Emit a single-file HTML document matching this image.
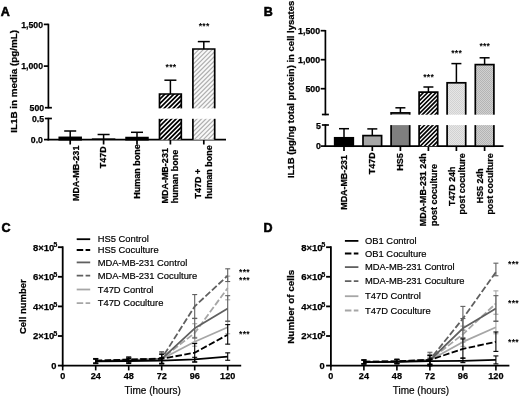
<!DOCTYPE html>
<html><head><meta charset="utf-8"><title>Figure</title>
<style>html,body{margin:0;padding:0;background:#fff;}svg{display:block;font-family:'Liberation Sans', Arial, sans-serif;}</style>
</head><body>
<svg width="520" height="397" viewBox="0 0 520 397">
<defs>
<pattern id="hb" width="3.2" height="3.2" patternUnits="userSpaceOnUse" patternTransform="rotate(45)"><rect width="3.2" height="3.2" fill="#fff"/><rect width="1.7" height="3.2" fill="#000"/></pattern>
<pattern id="hg" width="3.2" height="3.2" patternUnits="userSpaceOnUse" patternTransform="rotate(45)"><rect width="3.2" height="3.2" fill="#fbfbfb"/><rect width="1.2" height="3.2" fill="#b4b4b4"/></pattern>
<pattern id="hb2" width="2.9" height="2.9" patternUnits="userSpaceOnUse" patternTransform="rotate(45)"><rect width="2.9" height="2.9" fill="#fff"/><rect width="1.5" height="2.9" fill="#000"/></pattern>
</defs>
<rect width="520" height="397" fill="#fff"/>
<text x="0.80" y="15.60" font-size="12.5" font-weight="bold" text-anchor="start" fill="#000" stroke="#000" stroke-width="0.55">A</text>
<line x1="48.40" y1="23.70" x2="48.40" y2="108.40" stroke="#000" stroke-width="1.7" stroke-linecap="butt"/>
<line x1="43.80" y1="24.40" x2="48.40" y2="24.40" stroke="#000" stroke-width="1.7" stroke-linecap="butt"/>
<text x="43.00" y="27.50" font-size="8.7" font-weight="bold" text-anchor="end" fill="#000" stroke="#000" stroke-width="0.25">1,500</text>
<line x1="43.80" y1="66.10" x2="48.40" y2="66.10" stroke="#000" stroke-width="1.7" stroke-linecap="butt"/>
<text x="43.00" y="69.20" font-size="8.7" font-weight="bold" text-anchor="end" fill="#000" stroke="#000" stroke-width="0.25">1,000</text>
<line x1="44.90" y1="107.70" x2="51.90" y2="107.70" stroke="#000" stroke-width="1.7" stroke-linecap="butt"/>
<text x="44.10" y="110.80" font-size="8.7" font-weight="bold" text-anchor="end" fill="#000" stroke="#000" stroke-width="0.25">500</text>
<line x1="44.90" y1="118.50" x2="51.90" y2="118.50" stroke="#000" stroke-width="1.7" stroke-linecap="butt"/>
<text x="44.10" y="121.60" font-size="8.7" font-weight="bold" text-anchor="end" fill="#000" stroke="#000" stroke-width="0.25">0.5</text>
<line x1="44.00" y1="139.60" x2="48.40" y2="139.60" stroke="#000" stroke-width="1.7" stroke-linecap="butt"/>
<text x="42.90" y="142.80" font-size="8.7" font-weight="bold" text-anchor="end" fill="#000" stroke="#000" stroke-width="0.25">0.0</text>
<line x1="48.40" y1="117.80" x2="48.40" y2="140.40" stroke="#000" stroke-width="1.7" stroke-linecap="butt"/>
<line x1="47.55" y1="139.60" x2="226.00" y2="139.60" stroke="#000" stroke-width="1.7" stroke-linecap="butt"/>
<text x="17.50" y="81.30" font-size="9.85" font-weight="bold" text-anchor="middle" fill="#000" stroke="#000" stroke-width="0.25" transform="rotate(-90 17.50 81.30)">IL1B in media (pg/mL)</text>
<line x1="70.20" y1="139.70" x2="70.20" y2="144.50" stroke="#000" stroke-width="1.7" stroke-linecap="butt"/>
<line x1="103.60" y1="139.70" x2="103.60" y2="144.50" stroke="#000" stroke-width="1.7" stroke-linecap="butt"/>
<line x1="137.00" y1="139.70" x2="137.00" y2="144.50" stroke="#000" stroke-width="1.7" stroke-linecap="butt"/>
<line x1="170.40" y1="139.70" x2="170.40" y2="144.50" stroke="#000" stroke-width="1.7" stroke-linecap="butt"/>
<line x1="203.80" y1="139.70" x2="203.80" y2="144.50" stroke="#000" stroke-width="1.7" stroke-linecap="butt"/>
<rect x="59.30" y="137.40" width="21.80" height="2.30" fill="#000" stroke="#000" stroke-width="1.7"/>
<line x1="70.20" y1="137.60" x2="70.20" y2="131.00" stroke="#000" stroke-width="1.5" stroke-linecap="butt"/>
<line x1="64.20" y1="131.00" x2="76.20" y2="131.00" stroke="#000" stroke-width="1.5" stroke-linecap="butt"/>
<line x1="91.85" y1="139.00" x2="115.35" y2="139.00" stroke="#000" stroke-width="1.2" stroke-linecap="butt"/>
<line x1="103.60" y1="139.00" x2="103.60" y2="134.50" stroke="#000" stroke-width="1.5" stroke-linecap="butt"/>
<line x1="97.60" y1="134.50" x2="109.60" y2="134.50" stroke="#000" stroke-width="1.5" stroke-linecap="butt"/>
<rect x="126.10" y="137.60" width="21.80" height="2.10" fill="#000" stroke="#000" stroke-width="1.7"/>
<line x1="137.00" y1="137.80" x2="137.00" y2="132.30" stroke="#000" stroke-width="1.5" stroke-linecap="butt"/>
<line x1="131.00" y1="132.30" x2="143.00" y2="132.30" stroke="#000" stroke-width="1.5" stroke-linecap="butt"/>
<clipPath id="c1"><rect x="159.50" y="94.00" width="21.80" height="45.70"/></clipPath>
<rect x="159.50" y="94.00" width="21.80" height="45.70" fill="#fff"/>
<path d="M158.50 96.00L182.30 72.20M158.50 100.50L182.30 76.70M158.50 105.00L182.30 81.20M158.50 109.50L182.30 85.70M158.50 114.00L182.30 90.20M158.50 118.50L182.30 94.70M158.50 123.00L182.30 99.20M158.50 127.50L182.30 103.70M158.50 132.00L182.30 108.20M158.50 136.50L182.30 112.70M158.50 141.00L182.30 117.20M158.50 145.50L182.30 121.70M158.50 150.00L182.30 126.20M158.50 154.50L182.30 130.70M158.50 159.00L182.30 135.20M158.50 163.50L182.30 139.70" stroke="#000" stroke-width="1.75" fill="none" clip-path="url(#c1)"/>
<path d="M159.50 139.70V94.00H181.30V139.70" fill="none" stroke="#000" stroke-width="1.7"/>
<line x1="170.40" y1="94.00" x2="170.40" y2="80.20" stroke="#000" stroke-width="1.5" stroke-linecap="butt"/>
<line x1="164.40" y1="80.20" x2="176.40" y2="80.20" stroke="#000" stroke-width="1.5" stroke-linecap="butt"/>
<clipPath id="c2"><rect x="192.90" y="49.00" width="21.80" height="90.70"/></clipPath>
<rect x="192.90" y="49.00" width="21.80" height="90.70" fill="#f9f9f9"/>
<path d="M191.90 52.00L215.70 28.20M191.90 56.50L215.70 32.70M191.90 61.00L215.70 37.20M191.90 65.50L215.70 41.70M191.90 70.00L215.70 46.20M191.90 74.50L215.70 50.70M191.90 79.00L215.70 55.20M191.90 83.50L215.70 59.70M191.90 88.00L215.70 64.20M191.90 92.50L215.70 68.70M191.90 97.00L215.70 73.20M191.90 101.50L215.70 77.70M191.90 106.00L215.70 82.20M191.90 110.50L215.70 86.70M191.90 115.00L215.70 91.20M191.90 119.50L215.70 95.70M191.90 124.00L215.70 100.20M191.90 128.50L215.70 104.70M191.90 133.00L215.70 109.20M191.90 137.50L215.70 113.70M191.90 142.00L215.70 118.20M191.90 146.50L215.70 122.70M191.90 151.00L215.70 127.20M191.90 155.50L215.70 131.70M191.90 160.00L215.70 136.20M191.90 164.50L215.70 140.70" stroke="#b0b0b0" stroke-width="1.1" fill="none" clip-path="url(#c2)"/>
<path d="M192.90 139.70V49.00H214.70V139.70" fill="none" stroke="#000" stroke-width="1.7"/>
<line x1="203.80" y1="49.00" x2="203.80" y2="41.60" stroke="#000" stroke-width="1.5" stroke-linecap="butt"/>
<line x1="197.80" y1="41.60" x2="209.80" y2="41.60" stroke="#000" stroke-width="1.5" stroke-linecap="butt"/>
<rect x="53" y="108.4" width="175" height="10.4" fill="#fff"/>
<text x="171.00" y="69.90" font-size="8.6" font-weight="bold" text-anchor="middle" letter-spacing="0.25">***</text>
<text x="204.10" y="29.10" font-size="8.6" font-weight="bold" text-anchor="middle" letter-spacing="0.25">***</text>
<text x="78.60" y="145.60" font-size="9" font-weight="bold" text-anchor="end" fill="#000" stroke="#000" stroke-width="0.25" transform="rotate(-90 78.60 145.60)">MDA-MB-231</text>
<text x="106.50" y="146.20" font-size="9" font-weight="bold" text-anchor="end" fill="#000" stroke="#000" stroke-width="0.25" transform="rotate(-90 106.50 146.20)">T47D</text>
<text x="140.20" y="144.30" font-size="9" font-weight="bold" text-anchor="end" fill="#000" stroke="#000" stroke-width="0.25" transform="rotate(-90 140.20 144.30)">Human bone</text>
<text x="168.00" y="148.10" font-size="9" font-weight="bold" text-anchor="end" fill="#000" stroke="#000" stroke-width="0.25" transform="rotate(-90 168.00 148.10)">MDA-MB-231</text>
<text x="178.30" y="149.80" font-size="9" font-weight="bold" text-anchor="end" fill="#000" stroke="#000" stroke-width="0.25" transform="rotate(-90 178.30 149.80)">human bone</text>
<text x="201.30" y="198.60" font-size="9" font-weight="bold" text-anchor="start" fill="#000" stroke="#000" stroke-width="0.25" transform="rotate(-90 201.30 198.60)">T47D +</text>
<text x="212.40" y="145.20" font-size="9" font-weight="bold" text-anchor="end" fill="#000" stroke="#000" stroke-width="0.25" transform="rotate(-90 212.40 145.20)">human bone</text>
<text x="263.80" y="15.70" font-size="12.5" font-weight="bold" text-anchor="start" fill="#000" stroke="#000" stroke-width="0.55">B</text>
<line x1="325.40" y1="30.00" x2="325.40" y2="115.20" stroke="#000" stroke-width="1.7" stroke-linecap="butt"/>
<line x1="320.70" y1="30.70" x2="325.40" y2="30.70" stroke="#000" stroke-width="1.7" stroke-linecap="butt"/>
<text x="320.10" y="33.90" font-size="8.8" font-weight="bold" text-anchor="end" fill="#000" stroke="#000" stroke-width="0.25">1,500</text>
<line x1="320.70" y1="59.70" x2="325.40" y2="59.70" stroke="#000" stroke-width="1.7" stroke-linecap="butt"/>
<text x="320.10" y="62.90" font-size="8.8" font-weight="bold" text-anchor="end" fill="#000" stroke="#000" stroke-width="0.25">1,000</text>
<line x1="320.70" y1="88.70" x2="325.40" y2="88.70" stroke="#000" stroke-width="1.7" stroke-linecap="butt"/>
<text x="320.10" y="91.90" font-size="8.8" font-weight="bold" text-anchor="end" fill="#000" stroke="#000" stroke-width="0.25">500</text>
<line x1="321.90" y1="114.50" x2="328.90" y2="114.50" stroke="#000" stroke-width="1.7" stroke-linecap="butt"/>
<line x1="321.90" y1="125.00" x2="328.90" y2="125.00" stroke="#000" stroke-width="1.7" stroke-linecap="butt"/>
<text x="320.90" y="128.60" font-size="8.8" font-weight="bold" text-anchor="end" fill="#000" stroke="#000" stroke-width="0.25">5</text>
<line x1="320.90" y1="146.10" x2="325.40" y2="146.10" stroke="#000" stroke-width="1.7" stroke-linecap="butt"/>
<text x="320.80" y="149.40" font-size="8.8" font-weight="bold" text-anchor="end" fill="#000" stroke="#000" stroke-width="0.25">0</text>
<line x1="325.40" y1="124.30" x2="325.40" y2="146.90" stroke="#000" stroke-width="1.7" stroke-linecap="butt"/>
<line x1="324.55" y1="146.10" x2="503.50" y2="146.10" stroke="#000" stroke-width="1.7" stroke-linecap="butt"/>
<text x="293.80" y="89.40" font-size="9.5" font-weight="bold" text-anchor="middle" fill="#000" stroke="#000" stroke-width="0.25" transform="rotate(-90 293.80 89.40)">IL1B (pg/ng total protein) in cell lysates</text>
<line x1="344.00" y1="146.20" x2="344.00" y2="151.00" stroke="#000" stroke-width="1.7" stroke-linecap="butt"/>
<line x1="372.30" y1="146.20" x2="372.30" y2="151.00" stroke="#000" stroke-width="1.7" stroke-linecap="butt"/>
<line x1="400.40" y1="146.20" x2="400.40" y2="151.00" stroke="#000" stroke-width="1.7" stroke-linecap="butt"/>
<line x1="428.40" y1="146.20" x2="428.40" y2="151.00" stroke="#000" stroke-width="1.7" stroke-linecap="butt"/>
<line x1="456.40" y1="146.20" x2="456.40" y2="151.00" stroke="#000" stroke-width="1.7" stroke-linecap="butt"/>
<line x1="484.60" y1="146.20" x2="484.60" y2="151.00" stroke="#000" stroke-width="1.7" stroke-linecap="butt"/>
<pattern id="dl" width="2" height="2" patternUnits="userSpaceOnUse"><rect width="2" height="2" fill="#e6e6e6"/><rect width="1" height="1" fill="#d2d2d2"/><rect x="1" y="1" width="1" height="1" fill="#d2d2d2"/></pattern>
<pattern id="dd" width="2" height="2" patternUnits="userSpaceOnUse"><rect width="2" height="2" fill="#d0d0d0"/><rect width="1" height="1" fill="#b4b4b4"/><rect x="1" y="1" width="1" height="1" fill="#b4b4b4"/></pattern>
<rect x="334.70" y="137.80" width="18.60" height="8.40" fill="#000" stroke="#000" stroke-width="1.7"/>
<line x1="344.00" y1="137.80" x2="344.00" y2="128.70" stroke="#000" stroke-width="1.5" stroke-linecap="butt"/>
<line x1="339.00" y1="128.70" x2="349.00" y2="128.70" stroke="#000" stroke-width="1.5" stroke-linecap="butt"/>
<rect x="363.00" y="135.60" width="18.60" height="10.60" fill="#a6a6a6" stroke="#000" stroke-width="1.7"/>
<line x1="372.30" y1="135.60" x2="372.30" y2="128.90" stroke="#000" stroke-width="1.5" stroke-linecap="butt"/>
<line x1="367.30" y1="128.90" x2="377.30" y2="128.90" stroke="#000" stroke-width="1.5" stroke-linecap="butt"/>
<rect x="391.10" y="112.90" width="18.60" height="33.30" fill="#7f7f7f" stroke="#000" stroke-width="1.7"/>
<line x1="400.40" y1="112.90" x2="400.40" y2="107.80" stroke="#000" stroke-width="1.5" stroke-linecap="butt"/>
<line x1="395.40" y1="107.80" x2="405.40" y2="107.80" stroke="#000" stroke-width="1.5" stroke-linecap="butt"/>
<clipPath id="c3"><rect x="419.10" y="92.20" width="18.60" height="54.00"/></clipPath>
<rect x="419.10" y="92.20" width="18.60" height="54.00" fill="#fff"/>
<path d="M418.10 93.70L438.70 73.10M418.10 97.90L438.70 77.30M418.10 102.10L438.70 81.50M418.10 106.30L438.70 85.70M418.10 110.50L438.70 89.90M418.10 114.70L438.70 94.10M418.10 118.90L438.70 98.30M418.10 123.10L438.70 102.50M418.10 127.30L438.70 106.70M418.10 131.50L438.70 110.90M418.10 135.70L438.70 115.10M418.10 139.90L438.70 119.30M418.10 144.10L438.70 123.50M418.10 148.30L438.70 127.70M418.10 152.50L438.70 131.90M418.10 156.70L438.70 136.10M418.10 160.90L438.70 140.30M418.10 165.10L438.70 144.50M418.10 169.30L438.70 148.70" stroke="#000" stroke-width="1.6" fill="none" clip-path="url(#c3)"/>
<path d="M419.10 146.20V92.20H437.70V146.20" fill="none" stroke="#000" stroke-width="1.7"/>
<line x1="428.40" y1="92.20" x2="428.40" y2="87.00" stroke="#000" stroke-width="1.5" stroke-linecap="butt"/>
<line x1="423.40" y1="87.00" x2="433.40" y2="87.00" stroke="#000" stroke-width="1.5" stroke-linecap="butt"/>
<rect x="447.10" y="82.80" width="18.60" height="63.40" fill="url(#dl)" stroke="#000" stroke-width="1.7"/>
<line x1="456.40" y1="82.80" x2="456.40" y2="63.60" stroke="#000" stroke-width="1.5" stroke-linecap="butt"/>
<line x1="451.40" y1="63.60" x2="461.40" y2="63.60" stroke="#000" stroke-width="1.5" stroke-linecap="butt"/>
<rect x="475.30" y="64.60" width="18.60" height="81.60" fill="url(#dd)" stroke="#000" stroke-width="1.7"/>
<line x1="484.60" y1="64.60" x2="484.60" y2="57.80" stroke="#000" stroke-width="1.5" stroke-linecap="butt"/>
<line x1="479.60" y1="57.80" x2="489.60" y2="57.80" stroke="#000" stroke-width="1.5" stroke-linecap="butt"/>
<rect x="330.5" y="114.7" width="176" height="10.4" fill="#fff"/>
<text x="428.60" y="80.30" font-size="8.6" font-weight="bold" text-anchor="middle" letter-spacing="0.25">***</text>
<text x="456.60" y="55.50" font-size="8.6" font-weight="bold" text-anchor="middle" letter-spacing="0.25">***</text>
<text x="484.80" y="49.00" font-size="8.6" font-weight="bold" text-anchor="middle" letter-spacing="0.25">***</text>
<text x="347.00" y="155.10" font-size="8.85" font-weight="bold" text-anchor="end" fill="#000" stroke="#000" stroke-width="0.25" transform="rotate(-90 347.00 155.10)">MDA-MB-231</text>
<text x="375.40" y="152.30" font-size="9.0" font-weight="bold" text-anchor="end" fill="#000" stroke="#000" stroke-width="0.25" transform="rotate(-90 375.40 152.30)">T47D</text>
<text x="403.20" y="153.10" font-size="9.1" font-weight="bold" text-anchor="end" fill="#000" stroke="#000" stroke-width="0.25" transform="rotate(-90 403.20 153.10)">HS5</text>
<text x="426.50" y="226.30" font-size="8.95" font-weight="bold" text-anchor="start" fill="#000" stroke="#000" stroke-width="0.25" transform="rotate(-90 426.50 226.30)">MDA-MB-231 24h</text>
<text x="437.00" y="226.00" font-size="9.0" font-weight="bold" text-anchor="start" fill="#000" stroke="#000" stroke-width="0.25" transform="rotate(-90 437.00 226.00)">post coculture</text>
<text x="455.00" y="186.30" font-size="8.9" font-weight="bold" text-anchor="middle" fill="#000" stroke="#000" stroke-width="0.25" transform="rotate(-90 455.00 186.30)">T47D 24h</text>
<text x="464.80" y="183.80" font-size="8.9" font-weight="bold" text-anchor="middle" fill="#000" stroke="#000" stroke-width="0.25" transform="rotate(-90 464.80 183.80)">post coculture</text>
<text x="483.40" y="185.80" font-size="8.8" font-weight="bold" text-anchor="middle" fill="#000" stroke="#000" stroke-width="0.25" transform="rotate(-90 483.40 185.80)">HS5 24h</text>
<text x="493.00" y="184.00" font-size="8.9" font-weight="bold" text-anchor="middle" fill="#000" stroke="#000" stroke-width="0.25" transform="rotate(-90 493.00 184.00)">post coculture</text>
<text x="1.50" y="232.20" font-size="12.5" font-weight="bold" text-anchor="start" fill="#000" stroke="#000" stroke-width="0.55">C</text>
<line x1="95.70" y1="358.94" x2="95.70" y2="363.38" stroke="#a6a6a6" stroke-width="1.1" stroke-linecap="butt"/>
<line x1="93.20" y1="358.94" x2="98.20" y2="358.94" stroke="#a6a6a6" stroke-width="1.1" stroke-linecap="butt"/>
<line x1="93.20" y1="363.38" x2="98.20" y2="363.38" stroke="#a6a6a6" stroke-width="1.1" stroke-linecap="butt"/>
<line x1="128.70" y1="357.76" x2="128.70" y2="362.79" stroke="#a6a6a6" stroke-width="1.1" stroke-linecap="butt"/>
<line x1="126.20" y1="357.76" x2="131.20" y2="357.76" stroke="#a6a6a6" stroke-width="1.1" stroke-linecap="butt"/>
<line x1="126.20" y1="362.79" x2="131.20" y2="362.79" stroke="#a6a6a6" stroke-width="1.1" stroke-linecap="butt"/>
<line x1="161.70" y1="354.50" x2="161.70" y2="363.38" stroke="#a6a6a6" stroke-width="1.1" stroke-linecap="butt"/>
<line x1="159.20" y1="354.50" x2="164.20" y2="354.50" stroke="#a6a6a6" stroke-width="1.1" stroke-linecap="butt"/>
<line x1="159.20" y1="363.38" x2="164.20" y2="363.38" stroke="#a6a6a6" stroke-width="1.1" stroke-linecap="butt"/>
<line x1="194.70" y1="337.33" x2="194.70" y2="346.21" stroke="#a6a6a6" stroke-width="1.1" stroke-linecap="butt"/>
<line x1="192.20" y1="337.33" x2="197.20" y2="337.33" stroke="#a6a6a6" stroke-width="1.1" stroke-linecap="butt"/>
<line x1="192.20" y1="346.21" x2="197.20" y2="346.21" stroke="#a6a6a6" stroke-width="1.1" stroke-linecap="butt"/>
<line x1="227.70" y1="320.76" x2="227.70" y2="333.78" stroke="#a6a6a6" stroke-width="1.1" stroke-linecap="butt"/>
<line x1="225.20" y1="320.76" x2="230.20" y2="320.76" stroke="#a6a6a6" stroke-width="1.1" stroke-linecap="butt"/>
<line x1="225.20" y1="333.78" x2="230.20" y2="333.78" stroke="#a6a6a6" stroke-width="1.1" stroke-linecap="butt"/>
<polyline points="95.70,361.16 128.70,360.27 161.70,358.94 194.70,341.77 227.70,327.27" fill="none" stroke="#a6a6a6" stroke-width="1.8" stroke-linejoin="round"/>
<line x1="95.70" y1="358.79" x2="95.70" y2="363.23" stroke="#a6a6a6" stroke-width="1.1" stroke-linecap="butt"/>
<line x1="93.20" y1="358.79" x2="98.20" y2="358.79" stroke="#a6a6a6" stroke-width="1.1" stroke-linecap="butt"/>
<line x1="93.20" y1="363.23" x2="98.20" y2="363.23" stroke="#a6a6a6" stroke-width="1.1" stroke-linecap="butt"/>
<line x1="128.70" y1="357.46" x2="128.70" y2="362.49" stroke="#a6a6a6" stroke-width="1.1" stroke-linecap="butt"/>
<line x1="126.20" y1="357.46" x2="131.20" y2="357.46" stroke="#a6a6a6" stroke-width="1.1" stroke-linecap="butt"/>
<line x1="126.20" y1="362.49" x2="131.20" y2="362.49" stroke="#a6a6a6" stroke-width="1.1" stroke-linecap="butt"/>
<line x1="161.70" y1="353.32" x2="161.70" y2="363.97" stroke="#a6a6a6" stroke-width="1.1" stroke-linecap="butt"/>
<line x1="159.20" y1="353.32" x2="164.20" y2="353.32" stroke="#a6a6a6" stroke-width="1.1" stroke-linecap="butt"/>
<line x1="159.20" y1="363.97" x2="164.20" y2="363.97" stroke="#a6a6a6" stroke-width="1.1" stroke-linecap="butt"/>
<line x1="194.70" y1="323.72" x2="194.70" y2="342.36" stroke="#a6a6a6" stroke-width="1.1" stroke-linecap="butt"/>
<line x1="192.20" y1="323.72" x2="197.20" y2="323.72" stroke="#a6a6a6" stroke-width="1.1" stroke-linecap="butt"/>
<line x1="192.20" y1="342.36" x2="197.20" y2="342.36" stroke="#a6a6a6" stroke-width="1.1" stroke-linecap="butt"/>
<line x1="227.70" y1="276.13" x2="227.70" y2="299.81" stroke="#a6a6a6" stroke-width="1.1" stroke-linecap="butt"/>
<line x1="225.20" y1="276.13" x2="230.20" y2="276.13" stroke="#a6a6a6" stroke-width="1.1" stroke-linecap="butt"/>
<line x1="225.20" y1="299.81" x2="230.20" y2="299.81" stroke="#a6a6a6" stroke-width="1.1" stroke-linecap="butt"/>
<polyline points="95.70,361.01 128.70,359.98 161.70,358.64 194.70,333.04 227.70,287.97" fill="none" stroke="#a6a6a6" stroke-width="1.8" stroke-linejoin="round" stroke-dasharray="6.5 2.4"/>
<line x1="95.70" y1="358.94" x2="95.70" y2="363.38" stroke="#606060" stroke-width="1.1" stroke-linecap="butt"/>
<line x1="93.20" y1="358.94" x2="98.20" y2="358.94" stroke="#606060" stroke-width="1.1" stroke-linecap="butt"/>
<line x1="93.20" y1="363.38" x2="98.20" y2="363.38" stroke="#606060" stroke-width="1.1" stroke-linecap="butt"/>
<line x1="128.70" y1="357.76" x2="128.70" y2="362.79" stroke="#606060" stroke-width="1.1" stroke-linecap="butt"/>
<line x1="126.20" y1="357.76" x2="131.20" y2="357.76" stroke="#606060" stroke-width="1.1" stroke-linecap="butt"/>
<line x1="126.20" y1="362.79" x2="131.20" y2="362.79" stroke="#606060" stroke-width="1.1" stroke-linecap="butt"/>
<line x1="161.70" y1="353.02" x2="161.70" y2="364.86" stroke="#606060" stroke-width="1.1" stroke-linecap="butt"/>
<line x1="159.20" y1="353.02" x2="164.20" y2="353.02" stroke="#606060" stroke-width="1.1" stroke-linecap="butt"/>
<line x1="159.20" y1="364.86" x2="164.20" y2="364.86" stroke="#606060" stroke-width="1.1" stroke-linecap="butt"/>
<line x1="194.70" y1="318.54" x2="194.70" y2="338.07" stroke="#606060" stroke-width="1.1" stroke-linecap="butt"/>
<line x1="192.20" y1="318.54" x2="197.20" y2="318.54" stroke="#606060" stroke-width="1.1" stroke-linecap="butt"/>
<line x1="192.20" y1="338.07" x2="197.20" y2="338.07" stroke="#606060" stroke-width="1.1" stroke-linecap="butt"/>
<line x1="227.70" y1="295.67" x2="227.70" y2="321.42" stroke="#606060" stroke-width="1.1" stroke-linecap="butt"/>
<line x1="225.20" y1="295.67" x2="230.20" y2="295.67" stroke="#606060" stroke-width="1.1" stroke-linecap="butt"/>
<line x1="225.20" y1="321.42" x2="230.20" y2="321.42" stroke="#606060" stroke-width="1.1" stroke-linecap="butt"/>
<polyline points="95.70,361.16 128.70,360.27 161.70,358.94 194.70,328.30 227.70,308.55" fill="none" stroke="#606060" stroke-width="1.8" stroke-linejoin="round"/>
<line x1="95.70" y1="358.64" x2="95.70" y2="363.08" stroke="#606060" stroke-width="1.1" stroke-linecap="butt"/>
<line x1="93.20" y1="358.64" x2="98.20" y2="358.64" stroke="#606060" stroke-width="1.1" stroke-linecap="butt"/>
<line x1="93.20" y1="363.08" x2="98.20" y2="363.08" stroke="#606060" stroke-width="1.1" stroke-linecap="butt"/>
<line x1="128.70" y1="357.16" x2="128.70" y2="362.20" stroke="#606060" stroke-width="1.1" stroke-linecap="butt"/>
<line x1="126.20" y1="357.16" x2="131.20" y2="357.16" stroke="#606060" stroke-width="1.1" stroke-linecap="butt"/>
<line x1="126.20" y1="362.20" x2="131.20" y2="362.20" stroke="#606060" stroke-width="1.1" stroke-linecap="butt"/>
<line x1="161.70" y1="351.69" x2="161.70" y2="365.30" stroke="#606060" stroke-width="1.1" stroke-linecap="butt"/>
<line x1="159.20" y1="351.69" x2="164.20" y2="351.69" stroke="#606060" stroke-width="1.1" stroke-linecap="butt"/>
<line x1="159.20" y1="365.30" x2="164.20" y2="365.30" stroke="#606060" stroke-width="1.1" stroke-linecap="butt"/>
<line x1="194.70" y1="294.56" x2="194.70" y2="318.24" stroke="#606060" stroke-width="1.1" stroke-linecap="butt"/>
<line x1="192.20" y1="294.56" x2="197.20" y2="294.56" stroke="#606060" stroke-width="1.1" stroke-linecap="butt"/>
<line x1="192.20" y1="318.24" x2="197.20" y2="318.24" stroke="#606060" stroke-width="1.1" stroke-linecap="butt"/>
<line x1="227.70" y1="268.81" x2="227.70" y2="281.54" stroke="#606060" stroke-width="1.1" stroke-linecap="butt"/>
<line x1="225.20" y1="268.81" x2="230.20" y2="268.81" stroke="#606060" stroke-width="1.1" stroke-linecap="butt"/>
<line x1="225.20" y1="281.54" x2="230.20" y2="281.54" stroke="#606060" stroke-width="1.1" stroke-linecap="butt"/>
<polyline points="95.70,360.86 128.70,359.68 161.70,358.50 194.70,306.40 227.70,275.62" fill="none" stroke="#606060" stroke-width="1.8" stroke-linejoin="round" stroke-dasharray="6.5 2.4"/>
<line x1="95.70" y1="359.24" x2="95.70" y2="363.68" stroke="#000" stroke-width="1.1" stroke-linecap="butt"/>
<line x1="93.20" y1="359.24" x2="98.20" y2="359.24" stroke="#000" stroke-width="1.1" stroke-linecap="butt"/>
<line x1="93.20" y1="363.68" x2="98.20" y2="363.68" stroke="#000" stroke-width="1.1" stroke-linecap="butt"/>
<line x1="128.70" y1="358.50" x2="128.70" y2="363.53" stroke="#000" stroke-width="1.1" stroke-linecap="butt"/>
<line x1="126.20" y1="358.50" x2="131.20" y2="358.50" stroke="#000" stroke-width="1.1" stroke-linecap="butt"/>
<line x1="126.20" y1="363.53" x2="131.20" y2="363.53" stroke="#000" stroke-width="1.1" stroke-linecap="butt"/>
<line x1="161.70" y1="357.61" x2="161.70" y2="363.53" stroke="#000" stroke-width="1.1" stroke-linecap="butt"/>
<line x1="159.20" y1="357.61" x2="164.20" y2="357.61" stroke="#000" stroke-width="1.1" stroke-linecap="butt"/>
<line x1="159.20" y1="363.53" x2="164.20" y2="363.53" stroke="#000" stroke-width="1.1" stroke-linecap="butt"/>
<line x1="194.70" y1="357.31" x2="194.70" y2="362.05" stroke="#000" stroke-width="1.1" stroke-linecap="butt"/>
<line x1="192.20" y1="357.31" x2="197.20" y2="357.31" stroke="#000" stroke-width="1.1" stroke-linecap="butt"/>
<line x1="192.20" y1="362.05" x2="197.20" y2="362.05" stroke="#000" stroke-width="1.1" stroke-linecap="butt"/>
<line x1="227.70" y1="352.87" x2="227.70" y2="360.27" stroke="#000" stroke-width="1.1" stroke-linecap="butt"/>
<line x1="225.20" y1="352.87" x2="230.20" y2="352.87" stroke="#000" stroke-width="1.1" stroke-linecap="butt"/>
<line x1="225.20" y1="360.27" x2="230.20" y2="360.27" stroke="#000" stroke-width="1.1" stroke-linecap="butt"/>
<polyline points="95.70,361.46 128.70,361.01 161.70,360.57 194.70,359.38 227.70,356.57" fill="none" stroke="#000" stroke-width="1.8" stroke-linejoin="round"/>
<line x1="95.70" y1="358.50" x2="95.70" y2="362.94" stroke="#000" stroke-width="1.1" stroke-linecap="butt"/>
<line x1="93.20" y1="358.50" x2="98.20" y2="358.50" stroke="#000" stroke-width="1.1" stroke-linecap="butt"/>
<line x1="93.20" y1="362.94" x2="98.20" y2="362.94" stroke="#000" stroke-width="1.1" stroke-linecap="butt"/>
<line x1="128.70" y1="357.02" x2="128.70" y2="362.05" stroke="#000" stroke-width="1.1" stroke-linecap="butt"/>
<line x1="126.20" y1="357.02" x2="131.20" y2="357.02" stroke="#000" stroke-width="1.1" stroke-linecap="butt"/>
<line x1="126.20" y1="362.05" x2="131.20" y2="362.05" stroke="#000" stroke-width="1.1" stroke-linecap="butt"/>
<line x1="161.70" y1="354.35" x2="161.70" y2="363.23" stroke="#000" stroke-width="1.1" stroke-linecap="butt"/>
<line x1="159.20" y1="354.35" x2="164.20" y2="354.35" stroke="#000" stroke-width="1.1" stroke-linecap="butt"/>
<line x1="159.20" y1="363.23" x2="164.20" y2="363.23" stroke="#000" stroke-width="1.1" stroke-linecap="butt"/>
<line x1="194.70" y1="343.55" x2="194.70" y2="361.90" stroke="#000" stroke-width="1.1" stroke-linecap="butt"/>
<line x1="192.20" y1="343.55" x2="197.20" y2="343.55" stroke="#000" stroke-width="1.1" stroke-linecap="butt"/>
<line x1="192.20" y1="361.90" x2="197.20" y2="361.90" stroke="#000" stroke-width="1.1" stroke-linecap="butt"/>
<line x1="227.70" y1="324.60" x2="227.70" y2="344.14" stroke="#000" stroke-width="1.1" stroke-linecap="butt"/>
<line x1="225.20" y1="324.60" x2="230.20" y2="324.60" stroke="#000" stroke-width="1.1" stroke-linecap="butt"/>
<line x1="225.20" y1="344.14" x2="230.20" y2="344.14" stroke="#000" stroke-width="1.1" stroke-linecap="butt"/>
<polyline points="95.70,360.72 128.70,359.53 161.70,358.79 194.70,352.72 227.70,334.67" fill="none" stroke="#000" stroke-width="1.8" stroke-linejoin="round" stroke-dasharray="6.5 2.4"/>
<line x1="62.70" y1="246.30" x2="62.70" y2="366.50" stroke="#000" stroke-width="1.8" stroke-linecap="butt"/>
<line x1="57.90" y1="247.20" x2="62.70" y2="247.20" stroke="#000" stroke-width="1.8" stroke-linecap="butt"/>
<text x="54.40" y="250.55" font-size="9.5" font-weight="bold" text-anchor="end" stroke="#000" stroke-width="0.25">8×10</text>
<text x="53.40" y="247.30" font-size="6.8" font-weight="bold" text-anchor="start" stroke="#000" stroke-width="0.2">5</text>
<line x1="57.90" y1="276.80" x2="62.70" y2="276.80" stroke="#000" stroke-width="1.8" stroke-linecap="butt"/>
<text x="54.40" y="280.15" font-size="9.5" font-weight="bold" text-anchor="end" stroke="#000" stroke-width="0.25">6×10</text>
<text x="53.40" y="276.90" font-size="6.8" font-weight="bold" text-anchor="start" stroke="#000" stroke-width="0.2">5</text>
<line x1="57.90" y1="306.40" x2="62.70" y2="306.40" stroke="#000" stroke-width="1.8" stroke-linecap="butt"/>
<text x="54.40" y="309.75" font-size="9.5" font-weight="bold" text-anchor="end" stroke="#000" stroke-width="0.25">4×10</text>
<text x="53.40" y="306.50" font-size="6.8" font-weight="bold" text-anchor="start" stroke="#000" stroke-width="0.2">5</text>
<line x1="57.90" y1="336.00" x2="62.70" y2="336.00" stroke="#000" stroke-width="1.8" stroke-linecap="butt"/>
<text x="54.40" y="339.35" font-size="9.5" font-weight="bold" text-anchor="end" stroke="#000" stroke-width="0.25">2×10</text>
<text x="53.40" y="336.10" font-size="6.8" font-weight="bold" text-anchor="start" stroke="#000" stroke-width="0.2">5</text>
<line x1="57.90" y1="365.60" x2="62.70" y2="365.60" stroke="#000" stroke-width="1.8" stroke-linecap="butt"/>
<text x="56.50" y="369.00" font-size="9.3" font-weight="bold" text-anchor="end" fill="#000" stroke="#000" stroke-width="0.25">0</text>
<line x1="61.80" y1="365.60" x2="241.20" y2="365.60" stroke="#000" stroke-width="1.8" stroke-linecap="butt"/>
<line x1="62.70" y1="365.60" x2="62.70" y2="370.40" stroke="#000" stroke-width="1.6" stroke-linecap="butt"/>
<text x="62.70" y="378.60" font-size="9.1" font-weight="bold" text-anchor="middle" fill="#000" stroke="#000" stroke-width="0.25">0</text>
<line x1="95.70" y1="365.60" x2="95.70" y2="370.40" stroke="#000" stroke-width="1.6" stroke-linecap="butt"/>
<text x="95.70" y="378.60" font-size="9.1" font-weight="bold" text-anchor="middle" fill="#000" stroke="#000" stroke-width="0.25">24</text>
<line x1="128.70" y1="365.60" x2="128.70" y2="370.40" stroke="#000" stroke-width="1.6" stroke-linecap="butt"/>
<text x="128.70" y="378.60" font-size="9.1" font-weight="bold" text-anchor="middle" fill="#000" stroke="#000" stroke-width="0.25">48</text>
<line x1="161.70" y1="365.60" x2="161.70" y2="370.40" stroke="#000" stroke-width="1.6" stroke-linecap="butt"/>
<text x="161.70" y="378.60" font-size="9.1" font-weight="bold" text-anchor="middle" fill="#000" stroke="#000" stroke-width="0.25">72</text>
<line x1="194.70" y1="365.60" x2="194.70" y2="370.40" stroke="#000" stroke-width="1.6" stroke-linecap="butt"/>
<text x="194.70" y="378.60" font-size="9.1" font-weight="bold" text-anchor="middle" fill="#000" stroke="#000" stroke-width="0.25">96</text>
<line x1="227.70" y1="365.60" x2="227.70" y2="370.40" stroke="#000" stroke-width="1.6" stroke-linecap="butt"/>
<text x="227.70" y="378.60" font-size="9.1" font-weight="bold" text-anchor="middle" fill="#000" stroke="#000" stroke-width="0.25">120</text>
<text x="152.70" y="393.90" font-size="10.0" font-weight="normal" text-anchor="middle" fill="#000" stroke="#000" stroke-width="0.18">Time (hours)</text>
<text x="25.70" y="306.70" font-size="9.45" font-weight="bold" text-anchor="middle" fill="#000" stroke="#000" stroke-width="0.25" transform="rotate(-90 25.70 306.70)">Cell number</text>
<line x1="76.70" y1="239.20" x2="90.20" y2="239.20" stroke="#000" stroke-width="1.8" stroke-linecap="butt"/>
<text x="97.70" y="242.30" font-size="9.4" font-weight="normal" text-anchor="start" fill="#000" stroke="#000" stroke-width="0.18">HS5 Control</text>
<line x1="76.70" y1="250.00" x2="90.20" y2="250.00" stroke="#000" stroke-width="1.8" stroke-linecap="butt" stroke-dasharray="6.5 2.4"/>
<text x="97.70" y="253.10" font-size="9.4" font-weight="normal" text-anchor="start" fill="#000" stroke="#000" stroke-width="0.18">HS5 Coculture</text>
<line x1="76.70" y1="262.40" x2="90.20" y2="262.40" stroke="#606060" stroke-width="1.8" stroke-linecap="butt"/>
<text x="97.70" y="265.50" font-size="9.4" font-weight="normal" text-anchor="start" fill="#000" stroke="#000" stroke-width="0.18">MDA-MB-231 Control</text>
<line x1="76.70" y1="275.70" x2="90.20" y2="275.70" stroke="#606060" stroke-width="1.8" stroke-linecap="butt" stroke-dasharray="6.5 2.4"/>
<text x="97.70" y="278.80" font-size="9.4" font-weight="normal" text-anchor="start" fill="#000" stroke="#000" stroke-width="0.18">MDA-MB-231 Coculture</text>
<line x1="76.70" y1="289.50" x2="90.20" y2="289.50" stroke="#a6a6a6" stroke-width="1.8" stroke-linecap="butt"/>
<text x="97.70" y="292.60" font-size="9.4" font-weight="normal" text-anchor="start" fill="#000" stroke="#000" stroke-width="0.18">T47D Control</text>
<line x1="76.70" y1="303.10" x2="90.20" y2="303.10" stroke="#a6a6a6" stroke-width="1.8" stroke-linecap="butt" stroke-dasharray="6.5 2.4"/>
<text x="97.70" y="306.20" font-size="9.4" font-weight="normal" text-anchor="start" fill="#000" stroke="#000" stroke-width="0.18">T47D Coculture</text>
<text x="244.50" y="274.80" font-size="8.6" font-weight="bold" text-anchor="middle" letter-spacing="0.25">***</text>
<text x="244.50" y="282.80" font-size="8.6" font-weight="bold" text-anchor="middle" letter-spacing="0.25">***</text>
<text x="244.50" y="336.80" font-size="8.6" font-weight="bold" text-anchor="middle" letter-spacing="0.25">***</text>
<text x="263.50" y="232.20" font-size="12.5" font-weight="bold" text-anchor="start" fill="#000" stroke="#000" stroke-width="0.55">D</text>
<line x1="363.90" y1="360.12" x2="363.90" y2="363.97" stroke="#a6a6a6" stroke-width="1.1" stroke-linecap="butt"/>
<line x1="361.40" y1="360.12" x2="366.40" y2="360.12" stroke="#a6a6a6" stroke-width="1.1" stroke-linecap="butt"/>
<line x1="361.40" y1="363.97" x2="366.40" y2="363.97" stroke="#a6a6a6" stroke-width="1.1" stroke-linecap="butt"/>
<line x1="396.90" y1="359.53" x2="396.90" y2="363.68" stroke="#a6a6a6" stroke-width="1.1" stroke-linecap="butt"/>
<line x1="394.40" y1="359.53" x2="399.40" y2="359.53" stroke="#a6a6a6" stroke-width="1.1" stroke-linecap="butt"/>
<line x1="394.40" y1="363.68" x2="399.40" y2="363.68" stroke="#a6a6a6" stroke-width="1.1" stroke-linecap="butt"/>
<line x1="429.90" y1="355.83" x2="429.90" y2="364.71" stroke="#a6a6a6" stroke-width="1.1" stroke-linecap="butt"/>
<line x1="427.40" y1="355.83" x2="432.40" y2="355.83" stroke="#a6a6a6" stroke-width="1.1" stroke-linecap="butt"/>
<line x1="427.40" y1="364.71" x2="432.40" y2="364.71" stroke="#a6a6a6" stroke-width="1.1" stroke-linecap="butt"/>
<line x1="462.90" y1="337.48" x2="462.90" y2="346.36" stroke="#a6a6a6" stroke-width="1.1" stroke-linecap="butt"/>
<line x1="460.40" y1="337.48" x2="465.40" y2="337.48" stroke="#a6a6a6" stroke-width="1.1" stroke-linecap="butt"/>
<line x1="460.40" y1="346.36" x2="465.40" y2="346.36" stroke="#a6a6a6" stroke-width="1.1" stroke-linecap="butt"/>
<line x1="495.90" y1="320.76" x2="495.90" y2="333.78" stroke="#a6a6a6" stroke-width="1.1" stroke-linecap="butt"/>
<line x1="493.40" y1="320.76" x2="498.40" y2="320.76" stroke="#a6a6a6" stroke-width="1.1" stroke-linecap="butt"/>
<line x1="493.40" y1="333.78" x2="498.40" y2="333.78" stroke="#a6a6a6" stroke-width="1.1" stroke-linecap="butt"/>
<polyline points="363.90,362.05 396.90,361.60 429.90,360.27 462.90,341.92 495.90,327.27" fill="none" stroke="#a6a6a6" stroke-width="1.8" stroke-linejoin="round"/>
<line x1="363.90" y1="359.98" x2="363.90" y2="363.82" stroke="#a6a6a6" stroke-width="1.1" stroke-linecap="butt"/>
<line x1="361.40" y1="359.98" x2="366.40" y2="359.98" stroke="#a6a6a6" stroke-width="1.1" stroke-linecap="butt"/>
<line x1="361.40" y1="363.82" x2="366.40" y2="363.82" stroke="#a6a6a6" stroke-width="1.1" stroke-linecap="butt"/>
<line x1="396.90" y1="359.38" x2="396.90" y2="363.53" stroke="#a6a6a6" stroke-width="1.1" stroke-linecap="butt"/>
<line x1="394.40" y1="359.38" x2="399.40" y2="359.38" stroke="#a6a6a6" stroke-width="1.1" stroke-linecap="butt"/>
<line x1="394.40" y1="363.53" x2="399.40" y2="363.53" stroke="#a6a6a6" stroke-width="1.1" stroke-linecap="butt"/>
<line x1="429.90" y1="355.54" x2="429.90" y2="364.42" stroke="#a6a6a6" stroke-width="1.1" stroke-linecap="butt"/>
<line x1="427.40" y1="355.54" x2="432.40" y2="355.54" stroke="#a6a6a6" stroke-width="1.1" stroke-linecap="butt"/>
<line x1="427.40" y1="364.42" x2="432.40" y2="364.42" stroke="#a6a6a6" stroke-width="1.1" stroke-linecap="butt"/>
<line x1="462.90" y1="326.08" x2="462.90" y2="342.36" stroke="#a6a6a6" stroke-width="1.1" stroke-linecap="butt"/>
<line x1="460.40" y1="326.08" x2="465.40" y2="326.08" stroke="#a6a6a6" stroke-width="1.1" stroke-linecap="butt"/>
<line x1="460.40" y1="342.36" x2="465.40" y2="342.36" stroke="#a6a6a6" stroke-width="1.1" stroke-linecap="butt"/>
<line x1="495.90" y1="290.86" x2="495.90" y2="314.24" stroke="#a6a6a6" stroke-width="1.1" stroke-linecap="butt"/>
<line x1="493.40" y1="290.86" x2="498.40" y2="290.86" stroke="#a6a6a6" stroke-width="1.1" stroke-linecap="butt"/>
<line x1="493.40" y1="314.24" x2="498.40" y2="314.24" stroke="#a6a6a6" stroke-width="1.1" stroke-linecap="butt"/>
<polyline points="363.90,361.90 396.90,361.46 429.90,359.98 462.90,334.22 495.90,303.44" fill="none" stroke="#a6a6a6" stroke-width="1.8" stroke-linejoin="round" stroke-dasharray="6.5 2.4"/>
<line x1="363.90" y1="360.12" x2="363.90" y2="363.97" stroke="#606060" stroke-width="1.1" stroke-linecap="butt"/>
<line x1="361.40" y1="360.12" x2="366.40" y2="360.12" stroke="#606060" stroke-width="1.1" stroke-linecap="butt"/>
<line x1="361.40" y1="363.97" x2="366.40" y2="363.97" stroke="#606060" stroke-width="1.1" stroke-linecap="butt"/>
<line x1="396.90" y1="359.53" x2="396.90" y2="363.68" stroke="#606060" stroke-width="1.1" stroke-linecap="butt"/>
<line x1="394.40" y1="359.53" x2="399.40" y2="359.53" stroke="#606060" stroke-width="1.1" stroke-linecap="butt"/>
<line x1="394.40" y1="363.68" x2="399.40" y2="363.68" stroke="#606060" stroke-width="1.1" stroke-linecap="butt"/>
<line x1="429.90" y1="354.35" x2="429.90" y2="366.19" stroke="#606060" stroke-width="1.1" stroke-linecap="butt"/>
<line x1="427.40" y1="354.35" x2="432.40" y2="354.35" stroke="#606060" stroke-width="1.1" stroke-linecap="butt"/>
<line x1="427.40" y1="366.19" x2="432.40" y2="366.19" stroke="#606060" stroke-width="1.1" stroke-linecap="butt"/>
<line x1="462.90" y1="318.54" x2="462.90" y2="338.07" stroke="#606060" stroke-width="1.1" stroke-linecap="butt"/>
<line x1="460.40" y1="318.54" x2="465.40" y2="318.54" stroke="#606060" stroke-width="1.1" stroke-linecap="butt"/>
<line x1="460.40" y1="338.07" x2="465.40" y2="338.07" stroke="#606060" stroke-width="1.1" stroke-linecap="butt"/>
<line x1="495.90" y1="295.67" x2="495.90" y2="321.42" stroke="#606060" stroke-width="1.1" stroke-linecap="butt"/>
<line x1="493.40" y1="295.67" x2="498.40" y2="295.67" stroke="#606060" stroke-width="1.1" stroke-linecap="butt"/>
<line x1="493.40" y1="321.42" x2="498.40" y2="321.42" stroke="#606060" stroke-width="1.1" stroke-linecap="butt"/>
<polyline points="363.90,362.05 396.90,361.60 429.90,360.27 462.90,328.30 495.90,308.55" fill="none" stroke="#606060" stroke-width="1.8" stroke-linejoin="round"/>
<line x1="363.90" y1="359.83" x2="363.90" y2="363.68" stroke="#606060" stroke-width="1.1" stroke-linecap="butt"/>
<line x1="361.40" y1="359.83" x2="366.40" y2="359.83" stroke="#606060" stroke-width="1.1" stroke-linecap="butt"/>
<line x1="361.40" y1="363.68" x2="366.40" y2="363.68" stroke="#606060" stroke-width="1.1" stroke-linecap="butt"/>
<line x1="396.90" y1="359.24" x2="396.90" y2="363.38" stroke="#606060" stroke-width="1.1" stroke-linecap="butt"/>
<line x1="394.40" y1="359.24" x2="399.40" y2="359.24" stroke="#606060" stroke-width="1.1" stroke-linecap="butt"/>
<line x1="394.40" y1="363.38" x2="399.40" y2="363.38" stroke="#606060" stroke-width="1.1" stroke-linecap="butt"/>
<line x1="429.90" y1="352.28" x2="429.90" y2="365.60" stroke="#606060" stroke-width="1.1" stroke-linecap="butt"/>
<line x1="427.40" y1="352.28" x2="432.40" y2="352.28" stroke="#606060" stroke-width="1.1" stroke-linecap="butt"/>
<line x1="427.40" y1="365.60" x2="432.40" y2="365.60" stroke="#606060" stroke-width="1.1" stroke-linecap="butt"/>
<line x1="462.90" y1="306.40" x2="462.90" y2="330.08" stroke="#606060" stroke-width="1.1" stroke-linecap="butt"/>
<line x1="460.40" y1="306.40" x2="465.40" y2="306.40" stroke="#606060" stroke-width="1.1" stroke-linecap="butt"/>
<line x1="460.40" y1="330.08" x2="465.40" y2="330.08" stroke="#606060" stroke-width="1.1" stroke-linecap="butt"/>
<line x1="495.90" y1="263.18" x2="495.90" y2="275.76" stroke="#606060" stroke-width="1.1" stroke-linecap="butt"/>
<line x1="493.40" y1="263.18" x2="498.40" y2="263.18" stroke="#606060" stroke-width="1.1" stroke-linecap="butt"/>
<line x1="493.40" y1="275.76" x2="498.40" y2="275.76" stroke="#606060" stroke-width="1.1" stroke-linecap="butt"/>
<polyline points="363.90,361.75 396.90,361.31 429.90,359.68 462.90,318.54 495.90,272.06" fill="none" stroke="#606060" stroke-width="1.8" stroke-linejoin="round" stroke-dasharray="6.5 2.4"/>
<line x1="363.90" y1="360.27" x2="363.90" y2="364.12" stroke="#000" stroke-width="1.1" stroke-linecap="butt"/>
<line x1="361.40" y1="360.27" x2="366.40" y2="360.27" stroke="#000" stroke-width="1.1" stroke-linecap="butt"/>
<line x1="361.40" y1="364.12" x2="366.40" y2="364.12" stroke="#000" stroke-width="1.1" stroke-linecap="butt"/>
<line x1="396.90" y1="359.83" x2="396.90" y2="363.97" stroke="#000" stroke-width="1.1" stroke-linecap="butt"/>
<line x1="394.40" y1="359.83" x2="399.40" y2="359.83" stroke="#000" stroke-width="1.1" stroke-linecap="butt"/>
<line x1="394.40" y1="363.97" x2="399.40" y2="363.97" stroke="#000" stroke-width="1.1" stroke-linecap="butt"/>
<line x1="429.90" y1="358.20" x2="429.90" y2="364.12" stroke="#000" stroke-width="1.1" stroke-linecap="butt"/>
<line x1="427.40" y1="358.20" x2="432.40" y2="358.20" stroke="#000" stroke-width="1.1" stroke-linecap="butt"/>
<line x1="427.40" y1="364.12" x2="432.40" y2="364.12" stroke="#000" stroke-width="1.1" stroke-linecap="butt"/>
<line x1="462.90" y1="358.05" x2="462.90" y2="362.64" stroke="#000" stroke-width="1.1" stroke-linecap="butt"/>
<line x1="460.40" y1="358.05" x2="465.40" y2="358.05" stroke="#000" stroke-width="1.1" stroke-linecap="butt"/>
<line x1="460.40" y1="362.64" x2="465.40" y2="362.64" stroke="#000" stroke-width="1.1" stroke-linecap="butt"/>
<line x1="495.90" y1="355.92" x2="495.90" y2="363.91" stroke="#000" stroke-width="1.1" stroke-linecap="butt"/>
<line x1="493.40" y1="355.92" x2="498.40" y2="355.92" stroke="#000" stroke-width="1.1" stroke-linecap="butt"/>
<line x1="493.40" y1="363.91" x2="498.40" y2="363.91" stroke="#000" stroke-width="1.1" stroke-linecap="butt"/>
<polyline points="363.90,362.20 396.90,361.90 429.90,361.16 462.90,360.86 495.90,359.92" fill="none" stroke="#000" stroke-width="1.8" stroke-linejoin="round"/>
<line x1="363.90" y1="359.83" x2="363.90" y2="363.68" stroke="#000" stroke-width="1.1" stroke-linecap="butt"/>
<line x1="361.40" y1="359.83" x2="366.40" y2="359.83" stroke="#000" stroke-width="1.1" stroke-linecap="butt"/>
<line x1="361.40" y1="363.68" x2="366.40" y2="363.68" stroke="#000" stroke-width="1.1" stroke-linecap="butt"/>
<line x1="396.90" y1="359.24" x2="396.90" y2="363.38" stroke="#000" stroke-width="1.1" stroke-linecap="butt"/>
<line x1="394.40" y1="359.24" x2="399.40" y2="359.24" stroke="#000" stroke-width="1.1" stroke-linecap="butt"/>
<line x1="394.40" y1="363.38" x2="399.40" y2="363.38" stroke="#000" stroke-width="1.1" stroke-linecap="butt"/>
<line x1="429.90" y1="355.54" x2="429.90" y2="364.42" stroke="#000" stroke-width="1.1" stroke-linecap="butt"/>
<line x1="427.40" y1="355.54" x2="432.40" y2="355.54" stroke="#000" stroke-width="1.1" stroke-linecap="butt"/>
<line x1="427.40" y1="364.42" x2="432.40" y2="364.42" stroke="#000" stroke-width="1.1" stroke-linecap="butt"/>
<line x1="462.90" y1="338.96" x2="462.90" y2="358.20" stroke="#000" stroke-width="1.1" stroke-linecap="butt"/>
<line x1="460.40" y1="338.96" x2="465.40" y2="338.96" stroke="#000" stroke-width="1.1" stroke-linecap="butt"/>
<line x1="460.40" y1="358.20" x2="465.40" y2="358.20" stroke="#000" stroke-width="1.1" stroke-linecap="butt"/>
<line x1="495.90" y1="332.00" x2="495.90" y2="351.39" stroke="#000" stroke-width="1.1" stroke-linecap="butt"/>
<line x1="493.40" y1="332.00" x2="498.40" y2="332.00" stroke="#000" stroke-width="1.1" stroke-linecap="butt"/>
<line x1="493.40" y1="351.39" x2="498.40" y2="351.39" stroke="#000" stroke-width="1.1" stroke-linecap="butt"/>
<polyline points="363.90,361.75 396.90,361.31 429.90,359.98 462.90,348.88 495.90,341.77" fill="none" stroke="#000" stroke-width="1.8" stroke-linejoin="round" stroke-dasharray="6.5 2.4"/>
<line x1="330.90" y1="246.30" x2="330.90" y2="366.50" stroke="#000" stroke-width="1.8" stroke-linecap="butt"/>
<line x1="326.10" y1="247.20" x2="330.90" y2="247.20" stroke="#000" stroke-width="1.8" stroke-linecap="butt"/>
<text x="322.60" y="250.55" font-size="9.5" font-weight="bold" text-anchor="end" stroke="#000" stroke-width="0.25">8×10</text>
<text x="321.60" y="247.30" font-size="6.8" font-weight="bold" text-anchor="start" stroke="#000" stroke-width="0.2">5</text>
<line x1="326.10" y1="276.80" x2="330.90" y2="276.80" stroke="#000" stroke-width="1.8" stroke-linecap="butt"/>
<text x="322.60" y="280.15" font-size="9.5" font-weight="bold" text-anchor="end" stroke="#000" stroke-width="0.25">6×10</text>
<text x="321.60" y="276.90" font-size="6.8" font-weight="bold" text-anchor="start" stroke="#000" stroke-width="0.2">5</text>
<line x1="326.10" y1="306.40" x2="330.90" y2="306.40" stroke="#000" stroke-width="1.8" stroke-linecap="butt"/>
<text x="322.60" y="309.75" font-size="9.5" font-weight="bold" text-anchor="end" stroke="#000" stroke-width="0.25">4×10</text>
<text x="321.60" y="306.50" font-size="6.8" font-weight="bold" text-anchor="start" stroke="#000" stroke-width="0.2">5</text>
<line x1="326.10" y1="336.00" x2="330.90" y2="336.00" stroke="#000" stroke-width="1.8" stroke-linecap="butt"/>
<text x="322.60" y="339.35" font-size="9.5" font-weight="bold" text-anchor="end" stroke="#000" stroke-width="0.25">2×10</text>
<text x="321.60" y="336.10" font-size="6.8" font-weight="bold" text-anchor="start" stroke="#000" stroke-width="0.2">5</text>
<line x1="326.10" y1="365.60" x2="330.90" y2="365.60" stroke="#000" stroke-width="1.8" stroke-linecap="butt"/>
<text x="324.70" y="369.00" font-size="9.3" font-weight="bold" text-anchor="end" fill="#000" stroke="#000" stroke-width="0.25">0</text>
<line x1="330.00" y1="365.60" x2="509.40" y2="365.60" stroke="#000" stroke-width="1.8" stroke-linecap="butt"/>
<line x1="330.90" y1="365.60" x2="330.90" y2="370.40" stroke="#000" stroke-width="1.6" stroke-linecap="butt"/>
<text x="330.90" y="378.60" font-size="9.1" font-weight="bold" text-anchor="middle" fill="#000" stroke="#000" stroke-width="0.25">0</text>
<line x1="363.90" y1="365.60" x2="363.90" y2="370.40" stroke="#000" stroke-width="1.6" stroke-linecap="butt"/>
<text x="363.90" y="378.60" font-size="9.1" font-weight="bold" text-anchor="middle" fill="#000" stroke="#000" stroke-width="0.25">24</text>
<line x1="396.90" y1="365.60" x2="396.90" y2="370.40" stroke="#000" stroke-width="1.6" stroke-linecap="butt"/>
<text x="396.90" y="378.60" font-size="9.1" font-weight="bold" text-anchor="middle" fill="#000" stroke="#000" stroke-width="0.25">48</text>
<line x1="429.90" y1="365.60" x2="429.90" y2="370.40" stroke="#000" stroke-width="1.6" stroke-linecap="butt"/>
<text x="429.90" y="378.60" font-size="9.1" font-weight="bold" text-anchor="middle" fill="#000" stroke="#000" stroke-width="0.25">72</text>
<line x1="462.90" y1="365.60" x2="462.90" y2="370.40" stroke="#000" stroke-width="1.6" stroke-linecap="butt"/>
<text x="462.90" y="378.60" font-size="9.1" font-weight="bold" text-anchor="middle" fill="#000" stroke="#000" stroke-width="0.25">96</text>
<line x1="495.90" y1="365.60" x2="495.90" y2="370.40" stroke="#000" stroke-width="1.6" stroke-linecap="butt"/>
<text x="495.90" y="378.60" font-size="9.1" font-weight="bold" text-anchor="middle" fill="#000" stroke="#000" stroke-width="0.25">120</text>
<text x="420.90" y="393.90" font-size="10.0" font-weight="normal" text-anchor="middle" fill="#000" stroke="#000" stroke-width="0.18">Time (hours)</text>
<text x="293.60" y="306.80" font-size="9.85" font-weight="bold" text-anchor="middle" fill="#000" stroke="#000" stroke-width="0.25" transform="rotate(-90 293.60 306.80)">Number of cells</text>
<line x1="344.90" y1="240.90" x2="358.40" y2="240.90" stroke="#000" stroke-width="1.8" stroke-linecap="butt"/>
<text x="365.00" y="244.00" font-size="9.4" font-weight="normal" text-anchor="start" fill="#000" stroke="#000" stroke-width="0.18">OB1 Control</text>
<line x1="344.90" y1="253.50" x2="358.40" y2="253.50" stroke="#000" stroke-width="1.8" stroke-linecap="butt" stroke-dasharray="6.5 2.4"/>
<text x="365.00" y="256.60" font-size="9.4" font-weight="normal" text-anchor="start" fill="#000" stroke="#000" stroke-width="0.18">OB1 Coculture</text>
<line x1="344.90" y1="267.10" x2="358.40" y2="267.10" stroke="#606060" stroke-width="1.8" stroke-linecap="butt"/>
<text x="365.00" y="270.20" font-size="9.4" font-weight="normal" text-anchor="start" fill="#000" stroke="#000" stroke-width="0.18">MDA-MB-231 Control</text>
<line x1="344.90" y1="281.20" x2="358.40" y2="281.20" stroke="#606060" stroke-width="1.8" stroke-linecap="butt" stroke-dasharray="6.5 2.4"/>
<text x="365.00" y="284.30" font-size="9.4" font-weight="normal" text-anchor="start" fill="#000" stroke="#000" stroke-width="0.18">MDA-MB-231 Coculture</text>
<line x1="344.90" y1="296.20" x2="358.40" y2="296.20" stroke="#a6a6a6" stroke-width="1.8" stroke-linecap="butt"/>
<text x="365.00" y="299.30" font-size="9.4" font-weight="normal" text-anchor="start" fill="#000" stroke="#000" stroke-width="0.18">T47D Control</text>
<line x1="344.90" y1="310.50" x2="358.40" y2="310.50" stroke="#a6a6a6" stroke-width="1.8" stroke-linecap="butt" stroke-dasharray="6.5 2.4"/>
<text x="365.00" y="313.60" font-size="9.4" font-weight="normal" text-anchor="start" fill="#000" stroke="#000" stroke-width="0.18">T47D Coculture</text>
<text x="513.50" y="267.00" font-size="8.6" font-weight="bold" text-anchor="middle" letter-spacing="0.25">***</text>
<text x="513.50" y="305.50" font-size="8.6" font-weight="bold" text-anchor="middle" letter-spacing="0.25">***</text>
<text x="513.50" y="345.10" font-size="8.6" font-weight="bold" text-anchor="middle" letter-spacing="0.25">***</text>
</svg>
</body></html>
